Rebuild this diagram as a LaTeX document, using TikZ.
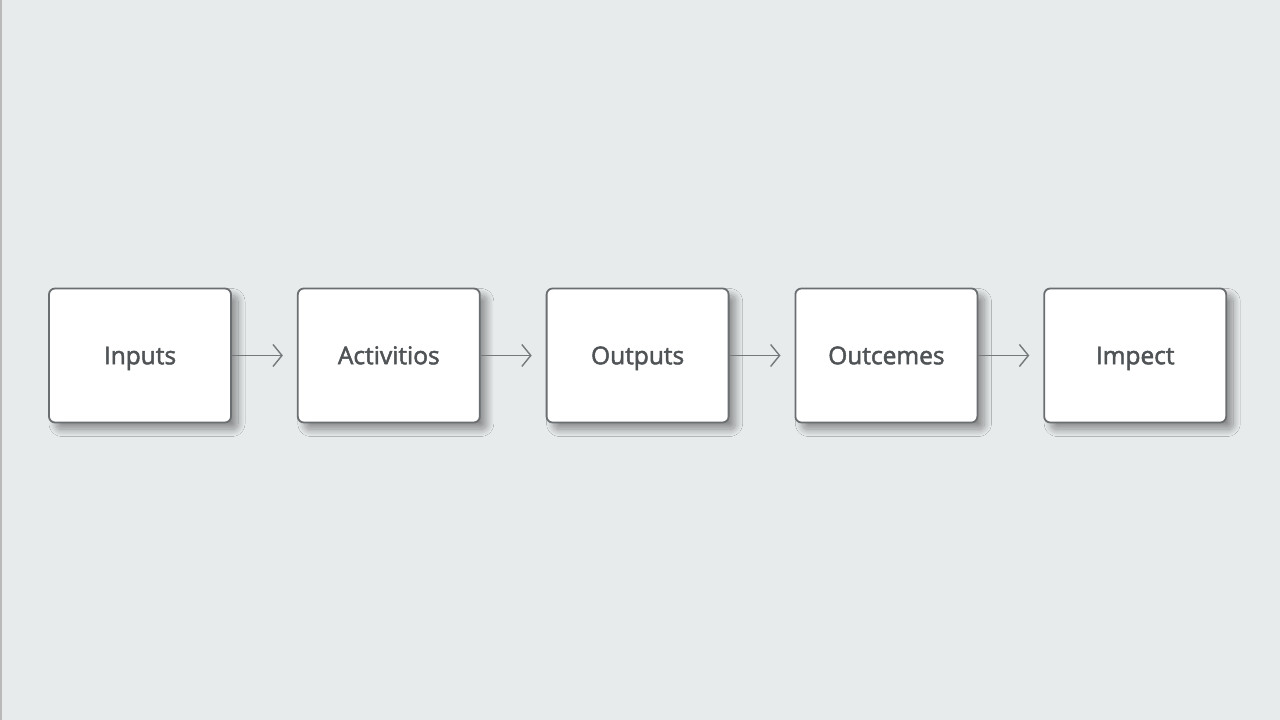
\documentclass[tikz,border=0pt]{standalone}
\usepackage{fontspec}
\setmainfont{Open Sans}
\newfontfamily\stagefont{Open Sans}[FakeBold=2]
\usetikzlibrary{positioning,arrows.meta,shadows.blur}
\definecolor{bgcol}{HTML}{E8EBEC}
\definecolor{edgecol}{HTML}{6A6E70}
\definecolor{txtcol}{HTML}{4F5355}
\definecolor{arrcol}{HTML}{76797B}
\tikzset{
  stage/.style={draw=edgecol, line width=1.8pt, fill=white, rounded corners=6pt,
    minimum width=182pt, minimum height=134pt, inner sep=0pt,
    font=\stagefont\fontsize{24.5}{28}\selectfont, text=txtcol,
    text height=17.5pt, text depth=0pt,
    blur shadow={shadow xshift=7pt, shadow yshift=-7pt, shadow blur steps=20,
      shadow opacity=40, shadow blur radius=7pt}},
  flow/.style={draw=arrcol, line width=1.4pt,
    -{Straight Barb[length=9pt,width=22pt,line width=1.4pt]}}
}
\begin{document}
\begin{tikzpicture}[x=1pt, y=1pt, node distance=65pt]
  \fill[bgcol] (0,0) rectangle (1280,720);
  \useasboundingbox (0,0) rectangle (1280,720);
  \draw[gray!55, line width=1.5pt] (0.75,0) -- (0.75,720);
  \node[stage] (inputs) at (140,364.5) {Inputs};
  \node[stage, right=of inputs] (activities) {Activitios};
  \node[stage, right=of activities] (outputs) {Outputs};
  \node[stage, right=of outputs] (outcomes) {Outcemes};
  \node[stage, right=of outcomes] (impact) {Impect};
  \draw[flow] (inputs.east) -- ([xshift=-14pt]activities.west);
  \draw[flow] (activities.east) -- ([xshift=-14pt]outputs.west);
  \draw[flow] (outputs.east) -- ([xshift=-14pt]outcomes.west);
  \draw[flow] (outcomes.east) -- ([xshift=-14pt]impact.west);
\end{tikzpicture}
\end{document}
